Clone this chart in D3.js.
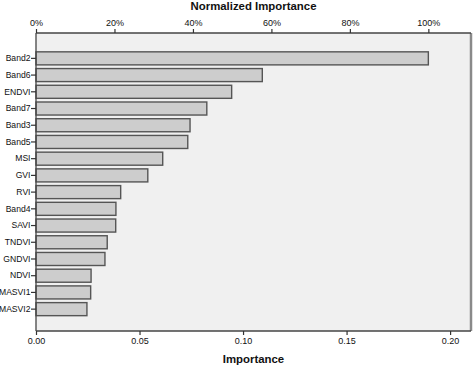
<!DOCTYPE html>
<html><head><meta charset="utf-8">
<script src="https://cdn.jsdelivr.net/npm/d3@7"></script>
<style>
html,body{margin:0;padding:0;background:#fff;}
svg{display:block;font-family:"Liberation Sans",Arial,sans-serif;}
</style></head>
<body>
<script>
const categories = ["Band2","Band6","ENDVI","Band7","Band3","Band5","MSI","GVI","RVI","Band4","SAVI","TNDVI","GNDVI","NDVI","MASVI1","MASVI2"];
const importance = [0.1895,0.1093,0.0945,0.0825,0.0744,0.0733,0.0612,0.0540,0.0409,0.0386,0.0385,0.0344,0.0333,0.0266,0.0264,0.0246];
const bottomTicks = [0,0.05,0.10,0.15,0.20];
const topTicks = [0,0.2,0.4,0.6,0.8,1.0];
const titleTop = "Normalized Importance";
const titleBottom = "Importance";

(function(){
const W=474,H=366;
const mL=36,mR=471,mT=33,mB=331;
const svg=d3.select("body").append("svg").attr("width",W).attr("height",H);

const x=d3.scaleLinear().domain([0,0.2101]).range([mL,mR]);
const maxV=d3.max(importance);
const xn=d3.scaleLinear().domain([0,1]).range([mL,x(maxV)]);
const y=d3.scaleBand().domain(categories).range([50,317.5]).paddingInner(0.22).paddingOuter(0.11);

svg.append("rect").attr("x",mL).attr("y",mT).attr("width",mR-mL).attr("height",mB-mT).attr("fill","#f0f0f0");
svg.append("line").attr("x1",mR).attr("x2",mR).attr("y1",mT).attr("y2",mB).attr("stroke","#8a8a8a").attr("stroke-width",2.5);

svg.append("g").selectAll("rect").data(categories).join("rect")
  .attr("x",mL).attr("y",d=>y(d)).attr("height",y.bandwidth())
  .attr("width",(d,i)=>x(importance[i])-mL)
  .attr("fill","#cdcdcd").attr("stroke","#555").attr("stroke-width",1.4);

const bx=d3.axisBottom(x).tickValues(bottomTicks).tickFormat(d3.format(".2f")).tickSize(4).tickSizeOuter(0);
const gb=svg.append("g").attr("transform",`translate(0,${mB})`).call(bx);
const tx=d3.axisTop(xn).tickValues(topTicks).tickFormat(d3.format(".0%")).tickSize(4).tickSizeOuter(0);
const gt=svg.append("g").attr("transform",`translate(0,${mT})`).call(tx);
const ly=d3.axisLeft(y).tickSize(5).tickSizeOuter(0).tickPadding(0.5);
const gl=svg.append("g").attr("transform",`translate(${mL},0)`).call(ly);
gl.select(".domain").attr("d",`M0,${mT}V${mB}`);
gt.select(".domain").attr("d",`M${mL},0H${mR}`);
gb.select(".domain").attr("d",`M${mL},0H${mR}`);
[gb,gt,gl].forEach(g=>{
  g.selectAll(".domain").attr("stroke","#444").attr("stroke-width",1.3);
  g.selectAll(".tick line").attr("stroke","#333").attr("stroke-width",1.2);
  g.selectAll("text").attr("font-size",9).attr("fill","#111").attr("font-family","'Liberation Sans',Arial,sans-serif");
});
gl.selectAll("text").attr("font-size",8.6);

svg.append("text").attr("x",(mL+mR)/2).attr("y",10).attr("text-anchor","middle")
  .attr("font-weight","bold").attr("font-size",11.4).attr("fill","#111").text(titleTop);
svg.append("text").attr("x",(mL+mR)/2).attr("y",363).attr("text-anchor","middle")
  .attr("font-weight","bold").attr("font-size",11.4).attr("fill","#111").text(titleBottom);
})();
</script>
</body></html>
